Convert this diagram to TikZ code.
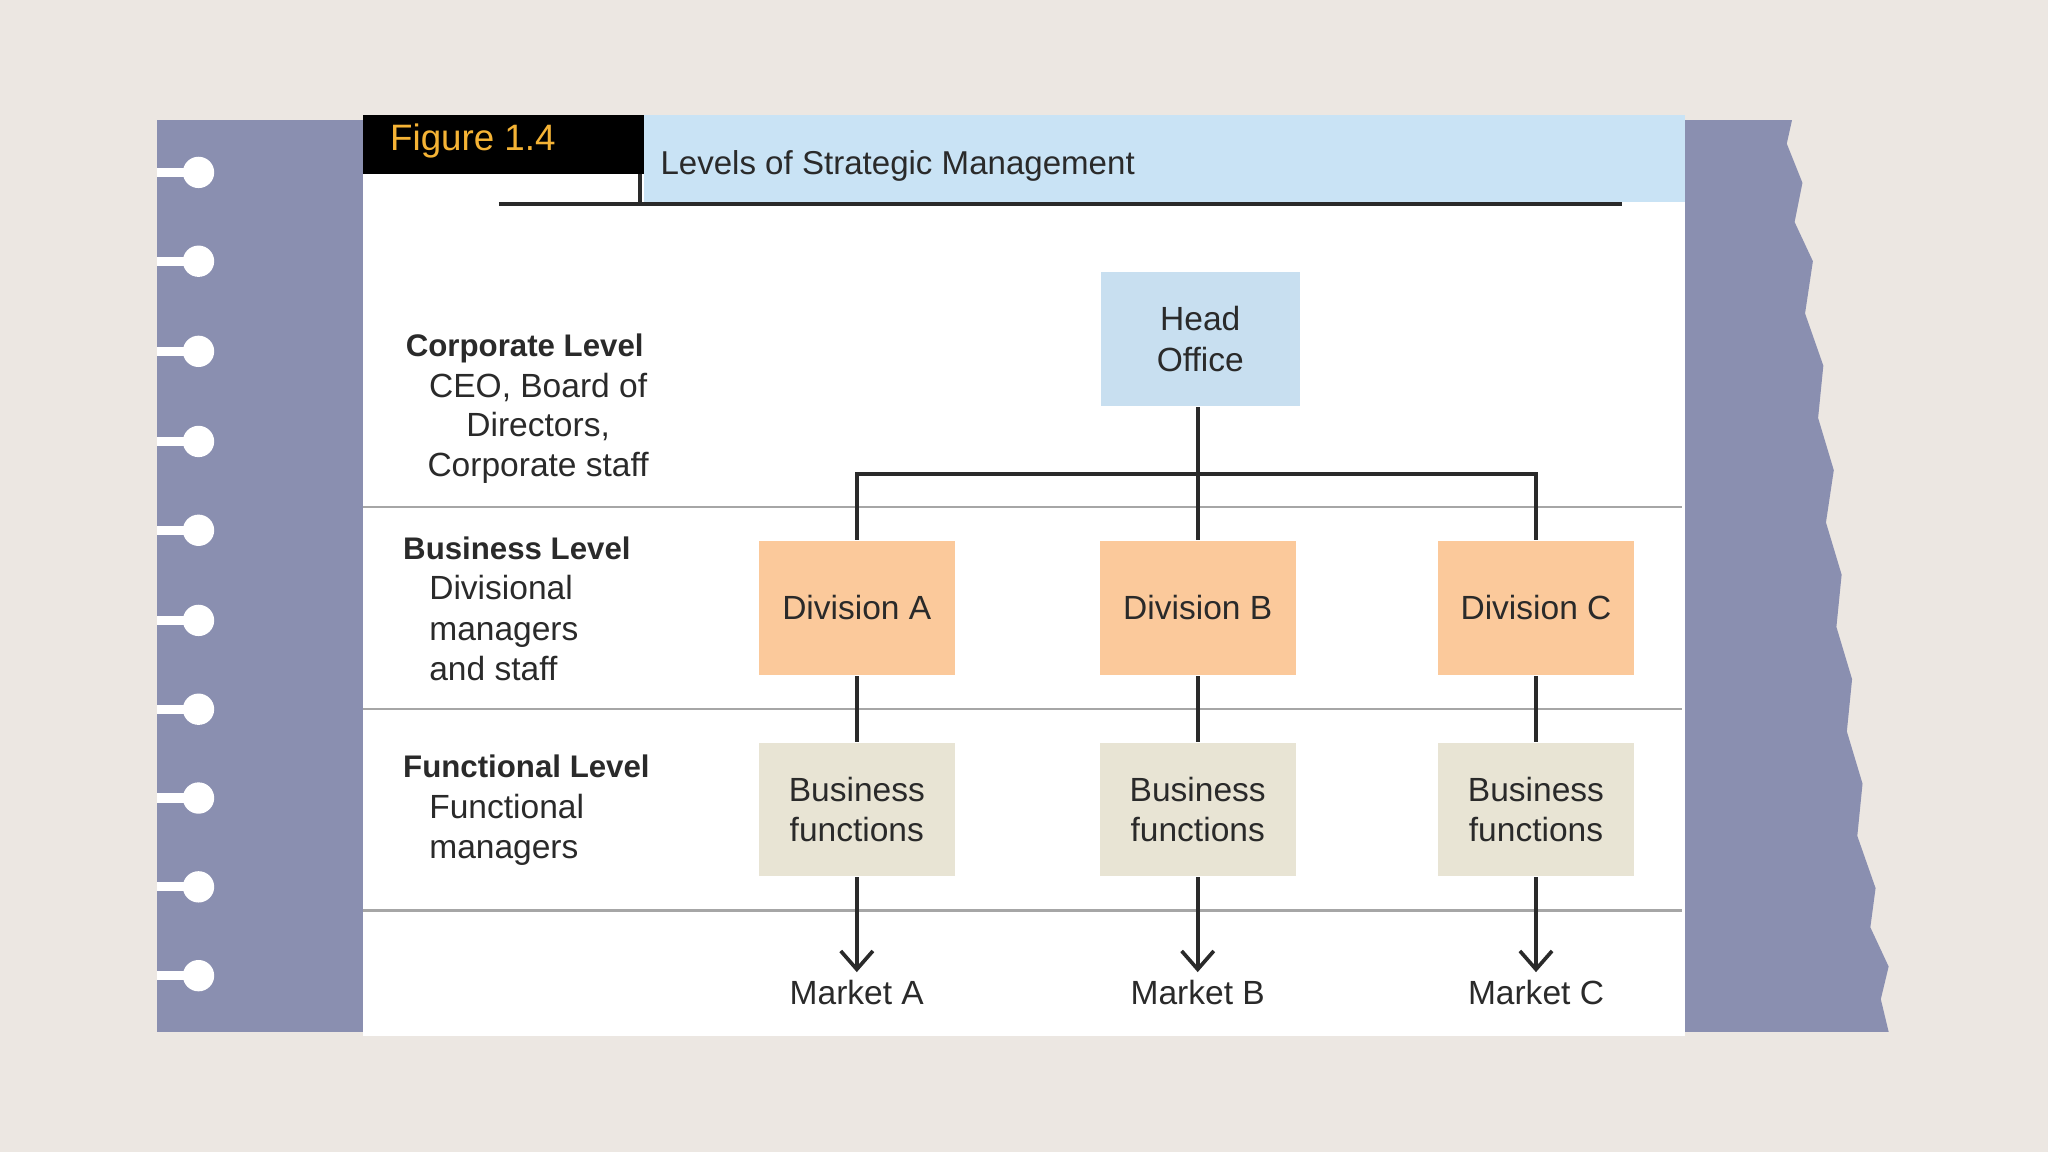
\documentclass[tikz,border=0pt]{standalone}
\usepackage{fontspec}
\setmainfont{Liberation Sans}
\usetikzlibrary{arrows.meta}
\definecolor{bg}{HTML}{ECE7E2}
\definecolor{strip}{HTML}{8A8FB0}
\definecolor{hdr}{HTML}{C9E3F5}
\definecolor{hob}{HTML}{C8DFF0}
\definecolor{divb}{HTML}{FBC99B}
\definecolor{bfb}{HTML}{E8E4D4}
\definecolor{figc}{HTML}{F5B335}
\definecolor{txt}{HTML}{2A2A2A}
\tikzset{
 box/.style={minimum width=1.5cm,minimum height=1.03cm,align=center,font=\fontsize{7.3}{8.8}\selectfont,text=txt,inner sep=1pt},
 lbl/.style={font=\fontsize{7.3}{8.8}\selectfont,text=txt,anchor=north west,align=left,inner sep=0pt},
 conn/.style={line width=0.8pt,draw=txt},
 sep/.style={line width=0.5pt,draw=gray!70}
}
\begin{document}
\begin{tikzpicture}[x=0.01cm,y=-0.01cm]
\useasboundingbox (0,0) rectangle (1568,882);
\fill[bg] (0,0) rectangle (1568,882);
\fill[strip] (120,92) rectangle (278,790);
\foreach \y in {132,200,269,338,406,475,543,611,679,747}{
 \draw[white,line width=2pt] (120,\y) -- (150,\y);
 \fill[white] (152,\y) circle (12);
}
\fill[strip] (1290,92) -- (1372,92) -- (1368,110) -- (1380,140) -- (1374,170) -- (1388,200) -- (1382,240) -- (1396,280) -- (1392,320) -- (1404,360) -- (1398,400) -- (1410,440) -- (1406,480) -- (1418,520) -- (1414,560) -- (1426,600) -- (1422,640) -- (1436,680) -- (1432,710) -- (1446,740) -- (1440,765) -- (1446,790) -- (1290,790) -- cycle;
\fill[white] (278,88) rectangle (1290,793);
\fill[hdr] (493,88) rectangle (1290,155);
\fill[black] (278,88) rectangle (493,133);
\node[anchor=west,font=\fontsize{8}{10}\selectfont,text=figc,inner sep=0pt] (fig) at (298,108) {Figure 1.4};
\node[anchor=west,font=\fontsize{7.2}{9}\selectfont,text=txt,inner sep=0pt] (title) at (505,127) {Levels of Strategic Management};
\draw[line width=0.9pt,txt] (382,156) -- (1242,156);
\draw[line width=0.9pt,txt] (490,133) -- (490,156);
\foreach \y in {388,543,697} \draw[sep] (278,\y) -- (1288,\y);
\node[box,fill=hob,minimum width=1.52cm] (ho) at (919,259.5) {Head\\Office};
\node[box,fill=divb] (da) at (656,465.5) {Division A};
\node[box,fill=divb] (db) at (917,465.5) {Division B};
\node[box,fill=divb] (dc) at (1176,465.5) {Division C};
\node[box,fill=bfb,minimum height=1.02cm] (ba) at (656,620) {Business\\functions};
\node[box,fill=bfb,minimum height=1.02cm] (bb) at (917,620) {Business\\functions};
\node[box,fill=bfb,minimum height=1.02cm] (bc) at (1176,620) {Business\\functions};
\node[box,minimum height=0.3cm] (ma) at (656,760) {Market A};
\node[box,minimum height=0.3cm] (mb) at (917,760) {Market B};
\node[box,minimum height=0.3cm] (mc) at (1176,760) {Market C};
\coordinate (j) at (917,363);
\draw[conn] (ho.south -| j) -- (j);
\draw[conn] (da.north) |- (j) -| (dc.north);
\draw[conn] (j) -- (db.north);
\foreach \a/\b in {da/ba,db/bb,dc/bc} \draw[conn] (\a.south) -- (\b.north);
\foreach \a/\b in {ba/ma,bb/mb,bc/mc} \draw[conn,-{Straight Barb[length=4pt,width=7pt]}] (\a.south) -- (\b.north);
\node[lbl,font=\fontsize{6.8}{8.8}\selectfont] (cl) at (310,255) {\textbf{Corporate Level}};
\node[font=\fontsize{7.3}{8.6}\selectfont,text=txt,align=center,anchor=north,inner sep=0pt] (cd) at (412,285) {CEO, Board of\\Directors,\\Corporate staff};
\node[lbl,font=\fontsize{6.8}{8.8}\selectfont] (bl) at (308,410) {\textbf{Business Level}};
\node[lbl] (bd) at (328,440) {Divisional\\managers\\and staff};
\node[lbl,font=\fontsize{6.8}{8.8}\selectfont] (fl) at (308,577) {\textbf{Functional Level}};
\node[lbl] (fd) at (328,607) {Functional\\managers};
\end{tikzpicture}
\end{document}
